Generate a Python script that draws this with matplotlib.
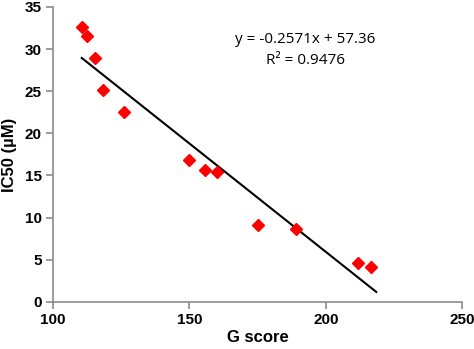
import numpy as np
import matplotlib
matplotlib.use("Agg")
import matplotlib.pyplot as plt

# data
g_score = [110.5, 112.6, 115.3, 118.4, 125.9, 149.9, 155.7, 160.2, 175.2, 188.9, 211.8, 216.5]
ic50 = [32.6, 31.5, 29.0, 25.1, 22.5, 16.8, 15.6, 15.4, 9.1, 8.7, 4.6, 4.1]
slope, intercept, r2 = -0.2571, 57.36, 0.9476
x_ticks = [100, 150, 200, 250]
y_ticks = [0, 5, 10, 15, 20, 25, 30, 35]

axis_grey = '#8c8c8c'

fig = plt.figure(figsize=(4.74, 3.49), dpi=100)
ax = fig.add_axes([0.112, 0.135, 0.863, 0.845])

# trendline over the range of the data
xl = np.array([110.5, 218.5])
ax.plot(xl, slope * xl + intercept, color='black', lw=1.5, zorder=2)
ax.plot(g_score, ic50, linestyle='none', marker='D', ms=6.5, color='#ff0000', mec='#ff0000', zorder=3)

ax.set_xlim(100, 250)
ax.set_ylim(0, 35)
ax.set_xticks(x_ticks)
ax.set_yticks(y_ticks)

for s in ['top', 'right']:
    ax.spines[s].set_visible(False)
for s in ['left', 'bottom']:
    ax.spines[s].set_color(axis_grey)
    ax.spines[s].set_linewidth(1.2)
ax.tick_params(direction='out', length=5, width=1.2, color=axis_grey, pad=3)
for lab in ax.get_xticklabels() + ax.get_yticklabels():
    lab.set_fontfamily('Liberation Sans')
    lab.set_fontweight('bold')
    lab.set_fontsize(11)

ax.set_xlabel('G score', fontfamily='Liberation Sans', fontweight='bold', fontsize=12, labelpad=2)
ax.set_ylabel('IC50 (µM)', fontfamily='Liberation Sans', fontweight='bold', fontsize=12, labelpad=6)

ax.text(192.5, 31.1, 'y = %.4fx + %.2f' % (slope, intercept), ha='center', va='center',
        fontfamily='Open Sans', fontsize=11)
ax.text(192.5, 28.6, 'R² = %.4f' % r2, ha='center', va='center',
        fontfamily='Open Sans', fontsize=11)

fig.savefig('out.png', dpi=100)
